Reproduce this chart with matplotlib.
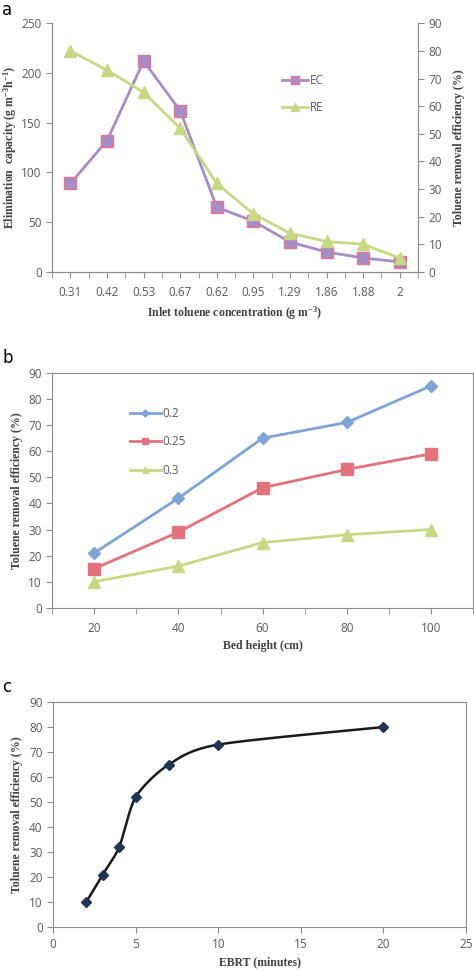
import numpy as np
import matplotlib
matplotlib.use("Agg")
import matplotlib.pyplot as plt
from matplotlib.ticker import FixedLocator

plt.rcParams["mathtext.fontset"] = "custom"
plt.rcParams["mathtext.rm"] = "Liberation Serif:bold"
plt.rcParams["mathtext.it"] = "Liberation Serif:bold"
plt.rcParams["mathtext.bf"] = "Liberation Serif:bold"

# panel a data
conc_labels = ["0.31", "0.42", "0.53", "0.67", "0.62", "0.95", "1.29", "1.86", "1.88", "2"]
ec_values = [89, 132, 212, 162, 65, 51, 30, 20, 14, 10]
re_values = [80, 73, 65, 52, 32, 21, 14, 11, 10, 5]

# panel b data
bed_labels = ["20", "40", "60", "80", "100"]
re_02 = [21, 42, 65, 71, 85]
re_025 = [15, 29, 46, 53, 59]
re_03 = [10, 16, 25, 28, 30]

# panel c data
ebrt = [2, 3, 4, 5, 7, 10, 20]
re_ebrt = [10, 21, 32, 52, 65, 73, 80]

TICK_FONT = "Open Sans"
LABEL_FONT = "Liberation Serif"
GREY = "#595959"
SPINE = "#8c8c8c"


def smooth(xs, ys, n=30):
    # Catmull-Rom style smoothing used only to draw the line between the points
    pts = np.column_stack([xs, ys]).astype(float)
    p = np.vstack([pts[0], pts, pts[-1]])
    out = []
    for i in range(1, len(p) - 2):
        p0, p1, p2, p3 = p[i - 1], p[i], p[i + 1], p[i + 2]
        t = np.linspace(0, 1, n)[:, None]
        m1 = (p2 - p0) / 2 * 0.8
        m2 = (p3 - p1) / 2 * 0.8
        h00 = 2 * t**3 - 3 * t**2 + 1
        h10 = t**3 - 2 * t**2 + t
        h01 = -2 * t**3 + 3 * t**2
        h11 = t**3 - t**2
        out.append(h00 * p1 + h10 * m1 + h01 * p2 + h11 * m2)
    c = np.vstack(out)
    return c[:, 0], c[:, 1]


def style_axis(ax):
    for s in ax.spines.values():
        s.set_color(SPINE)
    ax.tick_params(colors=SPINE, labelcolor=GREY, labelsize=8.5, length=4)
    for lab in ax.get_xticklabels() + ax.get_yticklabels():
        lab.set_fontfamily(TICK_FONT)


label_kw = dict(family=LABEL_FONT, fontweight="bold", fontsize=8.5, color="#404040")

fig = plt.figure(figsize=(4.74, 9.71), dpi=100)

# ---------------- panel a ----------------
ax1 = fig.add_axes([0.110, 0.720, 0.772, 0.256])
x = np.arange(len(conc_labels))
ax1.plot(x, ec_values, color="#a68cc8", lw=2, marker="s", ms=8,
         mfc="#a68cc8", mec="#e7748a", mew=1, label="EC", zorder=3)
ax1.set_ylim(0, 250)
ax1.set_yticks(range(0, 251, 50))
ax1.set_xlim(-0.5, len(conc_labels) - 0.5)
ax1.set_xticks(x)
ax1.set_xticklabels(conc_labels)
ax1.xaxis.set_minor_locator(FixedLocator(np.arange(-0.5, len(conc_labels), 1)))
ax1.tick_params(axis="x", which="major", length=0, pad=6)
ax1.tick_params(axis="x", which="minor", length=4, color=SPINE)
ax1.spines["top"].set_visible(False)
ax1.set_xlabel(r"Inlet toluene concentration (g m$^{\mathrm{-3}}$)", **label_kw)
ax1.set_ylabel(r"Elimination  capacity (g m$^{\mathrm{-3}}$h$^{\mathrm{-1}}$)",
               labelpad=2, **label_kw)
style_axis(ax1)

ax1r = ax1.twinx()
ax1r.plot(x, re_values, color="#c8d882", lw=2, marker="^", ms=8,
          mfc="#c8d882", mec="#c8d882", label="RE", zorder=3)
ax1r.set_ylim(0, 90)
ax1r.set_yticks(range(0, 91, 10))
ax1r.spines["top"].set_visible(False)
ax1r.set_ylabel("Toluene removal efficiency (%)", labelpad=8, **label_kw)
style_axis(ax1r)

h1, l1 = ax1.get_legend_handles_labels()
h2, l2 = ax1r.get_legend_handles_labels()
leg = ax1r.legend(h1 + h2, l1 + l2, loc="upper left", bbox_to_anchor=(0.60, 0.84),
                  frameon=False, handlelength=2.2, labelspacing=1.2, handletextpad=0.1,
                  prop={"family": TICK_FONT, "size": 8.5}, markerscale=0.7)
for t in leg.get_texts():
    t.set_color(GREY)
fig.text(0.005, 0.999, "a", fontsize=12, va="top", family="DejaVu Sans")

# ---------------- panel b ----------------
ax2 = fig.add_axes([0.110, 0.374, 0.888, 0.242])
xb = np.arange(len(bed_labels))
ax2.plot(xb, re_02, color="#7da3d7", lw=2, marker="D", ms=6, label="0.2", zorder=3)
ax2.plot(xb, re_025, color="#e3727a", lw=2, marker="s", ms=8, label="0.25", zorder=3)
ax2.plot(xb, re_03, color="#c8d882", lw=2, marker="^", ms=8, label="0.3", zorder=3)
ax2.set_ylim(0, 90)
ax2.set_yticks(range(0, 91, 10))
ax2.set_xlim(-0.5, len(bed_labels) - 0.5)
ax2.set_xticks(xb)
ax2.set_xticklabels(bed_labels)
ax2.xaxis.set_minor_locator(FixedLocator(np.arange(-0.5, len(bed_labels), 1)))
ax2.tick_params(axis="x", which="major", length=0, pad=6)
ax2.tick_params(axis="x", which="minor", length=4, color=SPINE)
ax2.set_xlabel("Bed height (cm)", **label_kw)
ax2.set_ylabel("Toluene removal efficiency (%)", labelpad=4, **label_kw)
style_axis(ax2)
leg = ax2.legend(loc="upper left", bbox_to_anchor=(0.16, 0.90), frameon=False,
                 handlelength=2.6, labelspacing=1.3, handletextpad=0.1,
                 prop={"family": TICK_FONT, "size": 8.5}, markerscale=0.6)
for t in leg.get_texts():
    t.set_color(GREY)
fig.text(0.005, 0.641, "b", fontsize=12, va="top", family="DejaVu Sans")

# ---------------- panel c ----------------
ax3 = fig.add_axes([0.112, 0.045, 0.871, 0.232])
sx, sy = smooth(ebrt, re_ebrt)
ax3.plot(sx, sy, color="#1a1a1a", lw=1.8, zorder=2)
ax3.plot(ebrt, re_ebrt, ls="none", marker="D", ms=5.5, color="#1f3553", zorder=3)
ax3.set_xlim(0, 25)
ax3.set_ylim(0, 90)
ax3.set_xticks(range(0, 26, 5))
ax3.set_yticks(range(0, 91, 10))
ax3.set_xlabel("EBRT (minutes)", **label_kw)
ax3.set_ylabel("Toluene removal efficiency (%)", labelpad=4, **label_kw)
style_axis(ax3)
fig.text(0.005, 0.302, "c", fontsize=12, va="top", family="DejaVu Sans")

fig.savefig("out.png", dpi=100)
